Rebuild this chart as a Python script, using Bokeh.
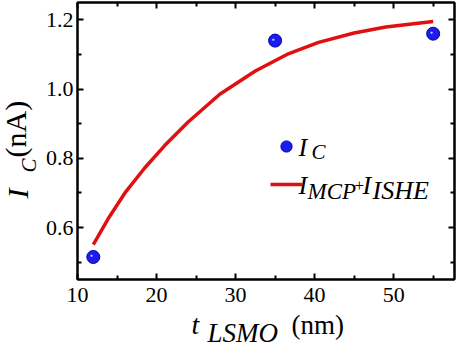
import math
from bokeh.plotting import figure
from bokeh.layouts import row, column
from bokeh.models import (Range1d, FixedTicker, LinearAxis, Label, Legend,
                          LegendItem, NumeralTickFormatter)
from bokeh.embed import file_html
from bokeh.resources import INLINE

# ---- data ----
thickness_nm = [12, 35, 55]
current_nA = [0.515, 1.14, 1.16]
fit_thickness = [12, 14, 16, 18.5, 21, 24, 28, 32.5, 36.5, 40.5, 45, 49, 55]
fit_current = [0.551, 0.630, 0.700, 0.772, 0.836, 0.905, 0.985, 1.052,
               1.100, 1.135, 1.162, 1.179, 1.195]
x_major = [10, 20, 30, 40, 50]
x_minor = [15, 25, 35, 45, 55]
y_major = [0.6, 0.8, 1.0, 1.2]
y_minor = [0.5, 0.7, 0.9, 1.1]

SERIF = "Liberation Serif"

# layout geometry (layout pixels, origin = top-left of the layout)
YT_W = 42            # y-title strip
P_W, P_H = 416, 313  # main plot
XT_H = 33            # x-title strip
TOTAL_H = P_H + XT_H

p = figure(width=P_W, height=P_H, output_backend="svg", toolbar_location=None,
           title=None,
           x_range=Range1d(10, 57.7), y_range=Range1d(0.45, 1.25),
           min_border_left=33, min_border_right=4, min_border_top=2,
           min_border_bottom=34)
p.grid.visible = False
p.outline_line_color = "black"
p.outline_line_width = 2


def style_axis(ax, major, minor, show_labels):
    ax.ticker = FixedTicker(ticks=major, minor_ticks=minor)
    ax.major_tick_in = 6
    ax.major_tick_out = 0
    ax.minor_tick_in = 4
    ax.minor_tick_out = 0
    ax.major_tick_line_width = 2
    ax.minor_tick_line_width = 2
    ax.axis_line_width = 2
    ax.major_tick_line_color = "black"
    ax.minor_tick_line_color = "black"
    ax.axis_line_color = "black"
    if show_labels:
        ax.major_label_text_font = SERIF
        ax.major_label_text_font_size = "22px"
        ax.major_label_text_color = "black"
    else:
        ax.major_label_text_font_size = "0px"
        ax.major_label_standoff = 0


style_axis(p.xaxis[0], x_major, x_minor, True)
p.xaxis[0].major_label_standoff = 8
style_axis(p.yaxis[0], y_major, y_minor, True)
p.yaxis[0].major_label_standoff = 4
p.yaxis[0].formatter = NumeralTickFormatter(format="0.0")

top_ax = LinearAxis()
style_axis(top_ax, x_major, x_minor, False)
p.add_layout(top_ax, "above")
right_ax = LinearAxis()
style_axis(right_ax, y_major, y_minor, False)
p.add_layout(right_ax, "right")

# ---- glyphs ----
fit = p.line(fit_thickness, fit_current, line_color="#e01010", line_width=3.5)
pts = p.scatter(thickness_nm, current_nA, size=13, fill_color="#1c1cf0",
                line_color="#0000a8", line_width=1)
p.text(thickness_nm, current_nA, text=["\u25CF"] * len(thickness_nm),
       x_offset=-2, y_offset=-2, text_font_size="5px", text_color="#c8c8ff",
       text_align="center", text_baseline="middle")

# ---- legend swatches ----
legend = Legend(items=[LegendItem(label=" ", renderers=[pts]),
                       LegendItem(label=" ", renderers=[fit])],
                location=(193, 81), glyph_width=32, glyph_height=28,
                label_height=28, spacing=10, padding=0, margin=0,
                label_standoff=0, label_text_font_size="4px",
                border_line_color=None, background_fill_alpha=0)
p.add_layout(legend)

SHIFT = 0.34  # rendered text sits about this many font-sizes below the anchor


def add_text(fig, ox, oy, text, x, y, size, italic=True, angle=0.0):
    """(x, y): wanted baseline start in layout pixels; (ox, oy): fig origin."""
    d = SHIFT * size
    if angle == 0.0:
        ax_, ay_ = x, y - d
    else:  # rotated 90 deg, reading upward: "below" is to the right
        ax_, ay_ = x - d, y
    fig.add_layout(Label(x=ax_ - ox, y=ay_ - oy, x_units="canvas",
                         y_units="canvas", text=text, text_font=SERIF,
                         text_font_size=f"{size}px",
                         text_font_style="italic" if italic else "normal",
                         text_color="black", text_baseline="alphabetic",
                         text_align="left", angle=angle))


# legend texts (inside the main plot)
P_OX, P_OY = YT_W, 0
add_text(p, P_OX, P_OY, "I", 298, 156, 26)
add_text(p, P_OX, P_OY, "C", 311, 159, 21)
add_text(p, P_OX, P_OY, "I", 298, 194, 26)
add_text(p, P_OX, P_OY, "MCP", 307, 199, 23)
add_text(p, P_OX, P_OY, "+", 354, 191, 17, italic=False)
add_text(p, P_OX, P_OY, "I", 362, 194, 26)
add_text(p, P_OX, P_OY, "ISHE", 372, 199, 26)


def strip(w, h):
    f = figure(width=w, height=h, output_backend="svg",
               toolbar_location=None, title=None, x_axis_type=None,
               y_axis_type=None, min_border=0,
               x_range=Range1d(0, 1), y_range=Range1d(0, 1))
    f.outline_line_color = None
    f.grid.visible = False
    return f


# ---- y-title strip ----
yt = strip(YT_W, TOTAL_H)
A = math.pi / 2
add_text(yt, 0, 0, "I", 27, 198, 30, angle=A)
add_text(yt, 0, 0, "C", 36, 172, 21, angle=A)
add_text(yt, 0, 0, "(nA)", 25, 157, 30, italic=False, angle=A)

# ---- x-title strip ----
xt = strip(P_W, XT_H)
X_OX, X_OY = YT_W, P_H
add_text(xt, X_OX, X_OY, "t", 191, 334, 28)
add_text(xt, X_OX, X_OY, "LSMO", 207, 342, 27)
add_text(xt, X_OX, X_OY, "(nm)", 291, 334, 27, italic=False)

layout = row(yt, column(p, xt))
open("out.html", "w").write(file_html(layout, INLINE))
